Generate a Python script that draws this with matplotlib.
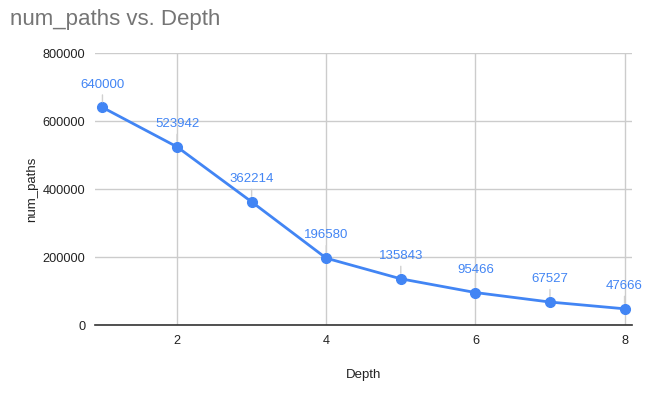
import matplotlib.pyplot as plt

plt.rcParams['font.family'] = ['Liberation Sans', 'DejaVu Sans']

depth = [1, 2, 3, 4, 5, 6, 7, 8]
num_paths = [640000, 523942, 362214, 196580, 135843, 95466, 67527, 47666]
y_ticks = [0, 200000, 400000, 600000, 800000]
x_ticks = [2, 4, 6, 8]

blue = '#4285F4'

fig = plt.figure(figsize=(6.45, 3.93), dpi=100)
ax = fig.add_axes([95 / 645, 1 - 325 / 393, 537 / 645, 272 / 393])

ax.plot(depth, num_paths, color=blue, linewidth=2, marker='o', markersize=7, zorder=3, clip_on=False)

# data labels with small stems like the google chart
for x, y in zip(depth, num_paths):
    ax.annotate(str(y), xy=(x, y), xytext=(0, 12), textcoords='offset points',
                ha='center', va='bottom', color=blue, fontsize=9.5,
                arrowprops=dict(arrowstyle='-', color='#d0d0d0', lw=1, shrinkA=1, shrinkB=4))

ax.set_xlim(0.9, 8.1)
ax.set_ylim(0, 800000)
ax.set_xticks(x_ticks)
ax.set_yticks(y_ticks)
ax.set_yticklabels([str(v) for v in y_ticks])
ax.grid(True, color='#cccccc', linewidth=1)
ax.set_axisbelow(True)
for s in ['top', 'right', 'left']:
    ax.spines[s].set_visible(False)
ax.spines['bottom'].set_color('#333333')
ax.spines['bottom'].set_linewidth(1.2)
ax.tick_params(length=0, labelsize=9.2, colors='#222222', pad=7)

ax.set_xlabel('Depth', fontsize=9.5, color='#222222', labelpad=16)
ax.set_ylabel('num_paths', fontsize=9.5, color='#222222', labelpad=3)

fig.text(10 / 645, 1 - 20 / 393, 'num_paths vs. Depth', fontsize=16, color='#757575', va='center', ha='left')

fig.savefig('out.png', dpi=100)
